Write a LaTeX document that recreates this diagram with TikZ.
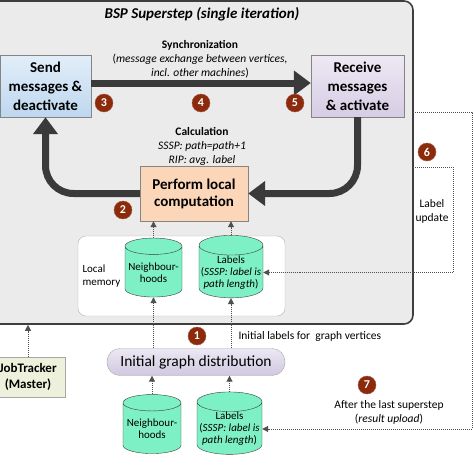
\documentclass[tikz,border=0pt]{standalone}
\usepackage{fontspec}
\setmainfont{Carlito}
\usepackage{tikz}
\usetikzlibrary{arrows.meta}
\usetikzlibrary{shapes.geometric}

\definecolor{framegray}{RGB}{62,62,62}
\definecolor{stepgray}{RGB}{235,235,235}
\definecolor{arrowgray}{RGB}{58,58,58}
\definecolor{linegray}{RGB}{80,80,80}
\definecolor{sendtop}{RGB}{226,238,249}
\definecolor{sendbot}{RGB}{190,215,239}
\definecolor{recvtop}{RGB}{238,233,244}
\definecolor{recvbot}{RGB}{214,204,228}
\definecolor{calcpeach}{RGB}{251,214,184}
\definecolor{storegreen}{RGB}{126,240,198}
\definecolor{disttop}{RGB}{236,232,243}
\definecolor{distbot}{RGB}{208,200,224}
\definecolor{mastergreen}{RGB}{237,240,218}
\definecolor{numred}{RGB}{140,42,12}

\begin{document}
\begin{tikzpicture}[x=1pt,y=-1pt,
  main box/.style={draw=linegray!70,align=center,inner sep=0pt,font=\bfseries\fontsize{15}{19}\selectfont},
  store/.style={cylinder,shape border rotate=90,aspect=0.32,draw=framegray,fill=storegreen,align=center,inner sep=0.5pt,minimum height=59pt,font=\fontsize{11}{12}\selectfont},
  step num/.style={circle,fill=numred,draw=numred!80!white,text=white,inner sep=0pt,minimum size=18pt,font=\bfseries\fontsize{12}{12}\selectfont},
  small text/.style={align=center,font=\fontsize{11.5}{14}\selectfont},
  big arrow/.style={line width=7pt,draw=arrowgray,-{Triangle[length=17pt,width=24pt]}},
  feed/.style={densely dotted,draw=linegray,line width=1pt,-{Triangle[length=6pt,width=6pt]}}]

  \useasboundingbox (0,0) rectangle (474,474);

  % superstep frame
  \node[draw=framegray,line width=1.6pt,fill=stepgray,rounded corners=9pt,minimum width=423pt,minimum height=323pt] (bsp) at (201.5,162.5) {};
  \node[font=\bfseries\itshape\fontsize{15}{18}\selectfont] (title) at (202,14) {BSP Superstep (single iteration)};

  \node[main box,top color=sendtop,bottom color=sendbot,minimum width=91pt,minimum height=62pt] (send) at (45.5,86) {Send\\messages \&\\deactivate};
  \node[main box,top color=recvtop,bottom color=recvbot,minimum width=93pt,minimum height=62pt] (recv) at (357.5,86) {Receive\\messages\\\& activate};
  \node[main box,fill=calcpeach,minimum width=108pt,minimum height=55pt,font=\bfseries\fontsize{15}{17}\selectfont] (perf) at (194,193.5) {Perform local\\computation};

  \node[small text] (synclab) at (200,59) {\textbf{Synchronization}\\(\textit{message exchange between vertices,}\\\textit{incl. other machines})};
  \node[small text] (calclab) at (202,146) {\textbf{Calculation}\\\textit{SSSP: path=path+1}\\\textit{RIP: avg. label}};

  \draw[big arrow] ([yshift=3pt]send.east) -- ([yshift=3pt]recv.west);
  \draw[big arrow,rounded corners=28pt] (perf.west) -| (send.south);
  \draw[big arrow,rounded corners=28pt] (recv.south) |- (perf.east);

  \node[step num] (n3) at (104,103) {3};
  \node[step num] (n4) at (201,103) {4};
  \node[step num] (n5) at (295,103) {5};
  \node[step num] (n2) at (123,210) {2};

  % local memory
  \node[draw=gray!60,fill=white,rounded corners=8pt,minimum width=207pt,minimum height=80pt] (mem) at (181.5,276) {};
  \node[small text,align=left,anchor=west,font=\fontsize{11}{13}\selectfont] (memlab) at (79,276) {Local\\memory};
  \node[store,minimum width=57pt] (nbr) at (153.5,272.5) {Neighbour-\\hoods};
  \node[store,minimum width=64pt] (lab) at (231,272.5) {Labels\\(\textit{SSSP: label is}\\\textit{path length})};

  \draw[feed] (nbr.north) -- (nbr.north |- perf.south);
  \draw[feed] (lab.north) -- (lab.north |- perf.south);

  % initial distribution
  \node[draw=gray!70,top color=disttop,bottom color=distbot,rounded corners=13pt,minimum width=178pt,minimum height=27pt,font=\fontsize{15.5}{18}\selectfont] (dist) at (196,362) {Initial graph distribution};
  \node[step num] (n1) at (197,336) {1};
  \node[small text,anchor=west] (initlab) at (235,336) {Initial labels for\ \ graph vertices};

  \draw[feed] (nbr.south |- dist.north) -- (nbr.south);
  \draw[feed] (lab.south |- dist.north) -- (lab.south);

  \node[store,minimum width=58pt] (nbr0) at (152,429) {Neighbour-\\hoods};
  \node[store,minimum width=65pt] (lab0) at (229.5,429) {Labels\\(\textit{SSSP: label is}\\\textit{path length})};

  \draw[feed] (nbr0.north) -- (nbr0.north |- dist.south);
  \draw[feed] (lab0.north) -- (lab0.north |- dist.south);

  % master
  \node[draw=gray!70,fill=mastergreen,minimum width=74pt,minimum height=40pt,align=center,font=\bfseries\fontsize{13}{16}\selectfont] (jt) at (28,377) {JobTracker\\(Master)};
  \draw[feed] (jt.north) -- (jt.north |- bsp.south);

  % label update and result upload
  \coordinate (upd) at (413,167);
  \coordinate (upl) at (413,112);
  \draw[feed] (upd) -- (453,167) |- (lab.east);
  \draw[feed] (upl) -- (472,112) |- (lab0.east);
  \node[step num] (n6) at (427,152) {6};
  \node[small text] (updlab) at (432,211) {Label\\update};
  \node[step num] (n7) at (367,385) {7};
  \node[small text] (upllab) at (389,412) {After the last superstep\\(\textit{result upload})};

\end{tikzpicture}
\end{document}
